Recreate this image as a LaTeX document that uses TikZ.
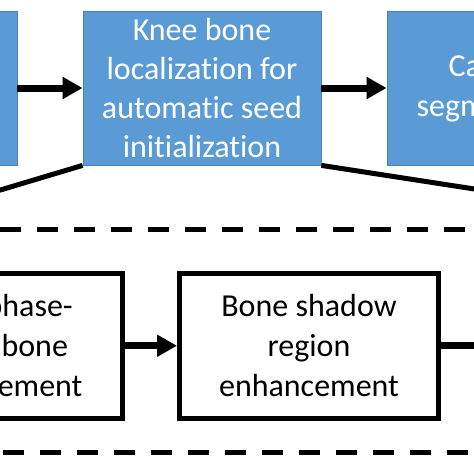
\documentclass[tikz,border=0pt]{standalone}
\usepackage{fontspec}
\setmainfont{Carlito}[Ligatures=NoCommon]
\usetikzlibrary{arrows.meta}
\definecolor{boxblue}{RGB}{91,155,213}
\definecolor{boxedge}{RGB}{72,128,180}
\begin{document}
\begin{tikzpicture}[x=1pt,y=-1pt,
  bluebox/.style={rectangle, fill=boxblue, draw=boxedge, line width=0.8pt, minimum width=238pt, minimum height=154pt, inner sep=0pt, text=white, align=center, font=\fontsize{32}{40}\selectfont},
  whitebox/.style={rectangle, draw=black, line width=5pt, minimum width=259pt, minimum height=144.5pt, inner sep=0pt, align=center, font=\fontsize{32}{40}\selectfont},
  flow/.style={line width=7pt, -{Triangle[length=20pt,width=21pt]}},
  callout/.style={line width=5pt},
  sepline/.style={line width=5pt, dash pattern=on 21pt off 16pt}]
\useasboundingbox (0,0) rectangle (474,474);
\fill[white] (0,0) rectangle (474,474);
\clip (0,0) rectangle (474,474);
\node[bluebox] (lb) at (-102,88) {};
\node[bluebox] (mb) at (202,88) {\raisebox{-3pt}{Knee bone}\\\raisebox{-2pt}{localization for}\\\raisebox{-1pt}{automatic seed}\\initialization};
\node[bluebox] (rb) at (506,88) {Cartilage\\segmentation};
\draw[flow] (lb) -- (mb);
\draw[flow] (mb) -- (rb);
\coordinate (cl) at (-130,229);
\coordinate (cr) at (734,229);
\draw[callout] (mb.south west) -- (cl);
\draw[callout] (mb.south east) -- (cr);
\draw[sepline] (0,229) -- (480,229);
\draw[sepline] (3,452) -- (480,452);
\node[whitebox] (lw) at (-7.5,345.75) {Local phase-\\based bone\\enhancement};
\node[whitebox] (mw) at (309,345.75) {Bone shadow\\region\\enhancement};
\coordinate (nw) at (498,345.75);
\draw[flow] (lw) -- (mw);
\draw[flow] (mw) -- (nw);
\end{tikzpicture}
\end{document}
